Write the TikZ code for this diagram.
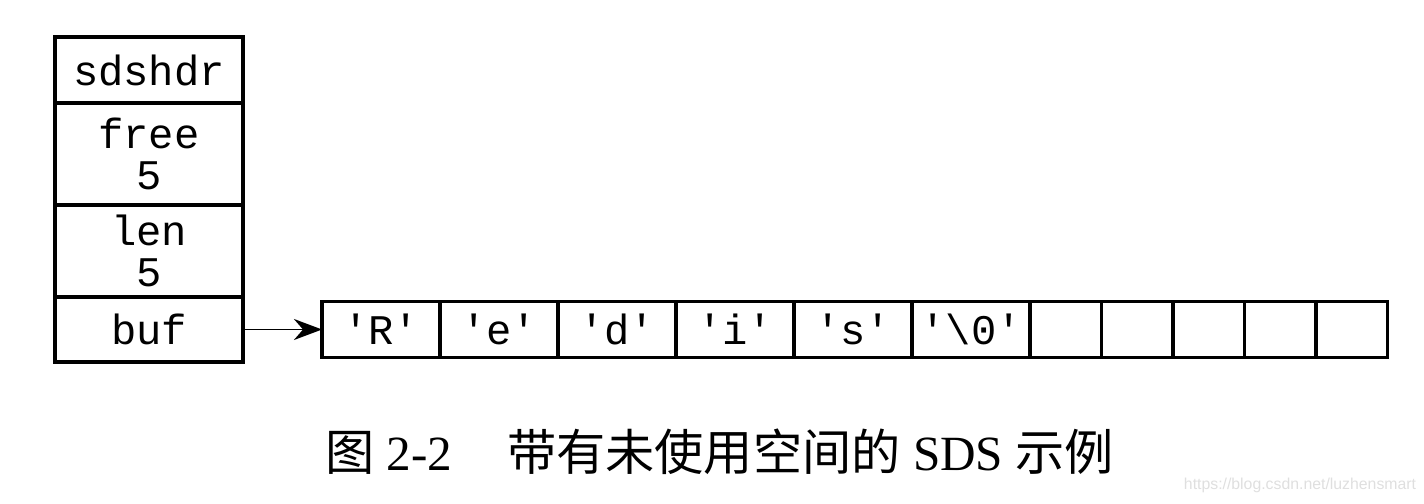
\documentclass[tikz,border=0pt]{standalone}
\usepackage{fontspec}
\setmainfont{Liberation Serif}
\setmonofont{Liberation Mono}
\newfontfamily\cjk{Noto Sans CJK SC}
\newfontfamily\wmfont{Liberation Sans}
\usetikzlibrary{positioning,arrows.meta}

\begin{document}
\begin{tikzpicture}[every node/.style={draw,line width=1.8pt,outer sep=0pt,inner sep=0pt,
    font=\ttfamily\fontsize{24}{23}\selectfont,align=center},
  field/.style={minimum width=3.76cm},
  cell/.style={minimum height=1.12cm,minimum width=2.36cm},
  spare/.style={minimum height=1.12cm,minimum width=1.43cm}]
\useasboundingbox (0,0) rectangle (28.48,-10.08);
\node[field,minimum height=1.32cm] (sdshdr) at (2.98,-1.40) {sdshdr};
\node[field,minimum height=2.04cm,below=0pt of sdshdr] (free) {free\\5};
\node[field,minimum height=1.84cm,below=0pt of free] (len) {len\\5};
\node[field,minimum height=1.30cm,below=0pt of len] (buf) {buf};
\node[cell,right=1.58cm of buf] (c1) {'R'};
\foreach \ch [count=\i from 2,remember=\i as \j (initially 1)] in {'e','d','i','s','\textbackslash0'}
    \node[cell,right=0pt of c\j] (c\i) {\ch};
\foreach \i [evaluate=\i as \j using int(\i-1)] in {7,...,11}
    \node[spare,right=0pt of c\j] (c\i) {};
\draw[-{Stealth[length=16pt,width=12pt]},line width=1.1pt] (buf.east) -- (buf.east -| c1.west);
\node[draw=none,anchor=west,font=\rmfamily\fontsize{28}{30}\selectfont] (caption) at (6.5,-9.04)
    {{\cjk 图} 2-2\hspace{1.1cm}{\cjk 带有未使用空间的} SDS {\cjk 示例}};
\node[draw=none,text=gray!25,font=\wmfont\fontsize{9}{10}\selectfont] (mark) at (26.0,-9.70)
    {https://blog.csdn.net/luzhensmart};
\end{tikzpicture}
\end{document}
